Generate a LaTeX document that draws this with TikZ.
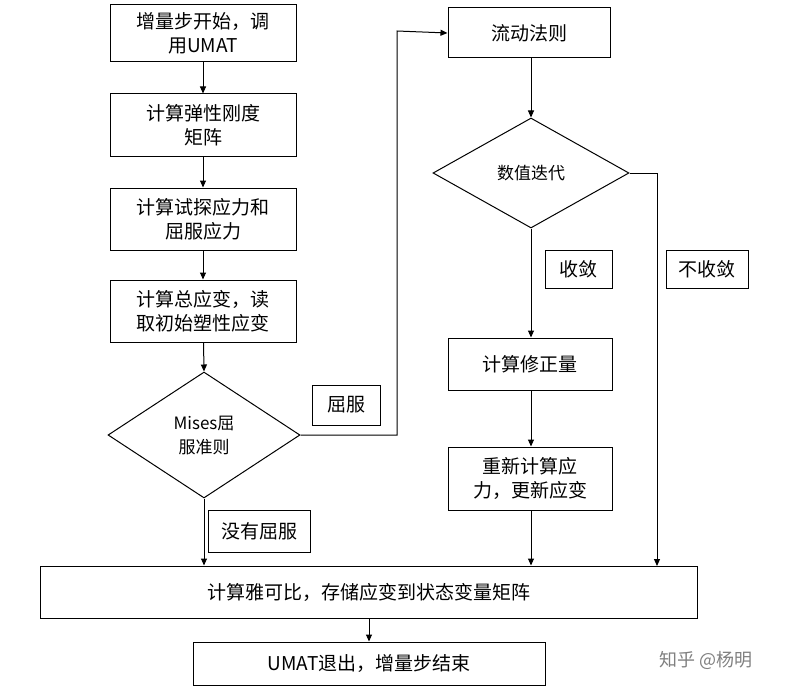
\documentclass[tikz,border=0pt]{standalone}
\usepackage{fontspec}
\setmainfont{Noto Sans CJK SC}
\usetikzlibrary{shapes.geometric,arrows.meta}
\begin{document}
\begin{tikzpicture}[x=1pt,y=-1pt,
  bx/.style={draw,line width=1pt,minimum width=186pt,minimum height=60pt,align=center,font=\fontsize{19}{24}\selectfont,inner sep=2pt},
  lb/.style={draw,line width=1pt,align=center,font=\fontsize{19}{24}\selectfont,inner sep=3pt},
  dm/.style={draw,line width=1pt,diamond,aspect=1.55,align=center,font=\fontsize{17}{24}\selectfont,inner sep=0pt},
  ar/.style={line width=1pt,-{Triangle[length=7pt,width=6pt]}}]
\useasboundingbox (0,0) rectangle (786,690);
\node[bx,minimum height=57pt] (a) at (203,33.5) {增量步开始，调\\用UMAT};
\node[bx,minimum height=62pt] (b) at (203,125) {计算弹性刚度\\矩阵};
\node[bx,minimum height=62pt] (c) at (203,219) {计算试探应力和\\屈服应力};
\node[bx,minimum height=62pt] (d) at (203,311) {计算总应变，读\\取初始塑性应变};
\node[dm,minimum width=192pt,minimum height=126pt] (m) at (204,435) {Mises屈\\服准则};
\node[lb,minimum width=68pt,minimum height=40pt] (l1) at (346,405) {屈服};
\node[lb,minimum width=102pt,minimum height=42pt] (l2) at (259,531) {没有屈服};
\node[bx,minimum width=657pt,minimum height=52pt] (j) at (368.5,592) {计算雅可比，存储应变到状态变量矩阵};
\node[bx,minimum width=352pt,minimum height=43pt] (e) at (369,663.5) {UMAT退出，增量步结束};
\node[bx,minimum width=162pt,minimum height=50pt] (f) at (529,33) {流动法则};
\node[dm,minimum width=196pt,minimum height=110pt] (n) at (531,173) {数值迭代};
\node[lb,minimum width=67pt,minimum height=38pt] (l3) at (578.5,269) {收敛};
\node[lb,minimum width=82pt,minimum height=38pt] (l4) at (707,269) {不收敛};
\node[bx,minimum width=164pt,minimum height=52pt] (g) at (530,364) {计算修正量};
\node[bx,minimum width=164pt,minimum height=63pt] (h) at (530,478.5) {重新计算应\\力，更新应变};
\coordinate (p1) at (397,435); \coordinate (p2) at (397,31);
\coordinate (q1) at (657,173); \coordinate (q2) at (657,566);
\draw[ar] (a) -- (b); \draw[ar] (b) -- (c); \draw[ar] (c) -- (d);
\draw[ar] (d) -- (m.north);
\draw[ar] (m.east) -- (p1) -- (p2) -- (f.west);
\draw[ar] (f.south -| n.north) -- (n.north);
\draw[ar] (n.south) -- (g.north -| n.south);
\draw[ar] (g.south -| n.south) -- (h.north -| n.south);
\draw[ar] (h.south -| n.south) -- (j.north -| n.south);
\draw[ar] (n.east) -- (q1) -- (q2);
\draw[ar] (m.south) -- (j.north -| m.south);
\draw[ar] (j.south -| e.north) -- (e.north);
\node[text=gray,font=\fontsize{18}{22}\selectfont] (w) at (706,660) {知乎 @杨明};
\end{tikzpicture}
\end{document}
